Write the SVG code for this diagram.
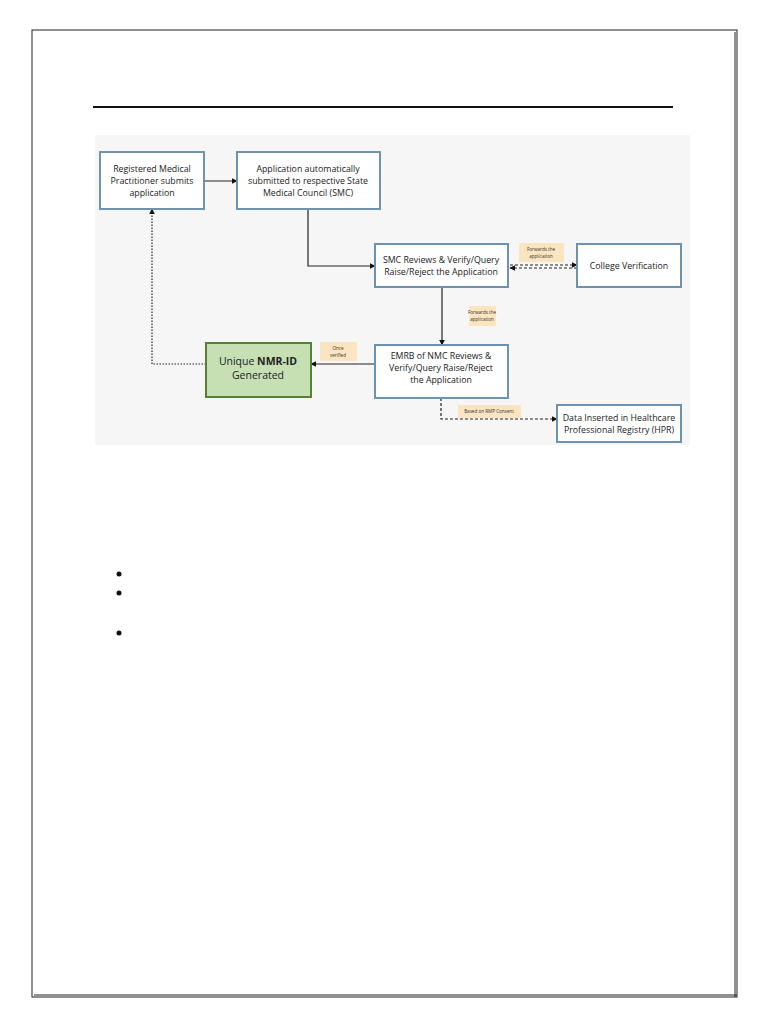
<svg xmlns="http://www.w3.org/2000/svg" width="768" height="1024" viewBox="0 0 768 1024">
<defs>
<marker id="a" viewBox="0 0 10 10" refX="9" refY="5" markerWidth="5" markerHeight="5" orient="auto"><path d="M0,0L10,5L0,10z" fill="#111"/></marker>
<style>
.n{fill:#fff;stroke:#6d93b3;stroke-width:2}
.t{font-family:"Open Sans","Liberation Sans",sans-serif;font-size:8.8px;fill:#222;text-anchor:middle}
.l{fill:#fbe5c0}
.s{font-family:"Open Sans","Liberation Sans",sans-serif;font-size:4.6px;fill:#333;text-anchor:middle}
.c{fill:none;stroke:#222;stroke-width:1.2}
</style>
</defs>
<rect width="768" height="1024" fill="#fff"/>
<rect x="32" y="30" width="705" height="967" fill="none" stroke="#222" stroke-width="1"/>
<line x1="34" y1="995" x2="737" y2="995" stroke="#222" stroke-width="1"/>
<line x1="735" y1="32" x2="735" y2="997" stroke="#222" stroke-width="1"/>
<line x1="93" y1="107" x2="673" y2="107" stroke="#111" stroke-width="2"/>
<rect x="95" y="135" width="595" height="310" fill="#f6f6f6"/>
<g id="connectors">
<path class="c" d="M204,181H237" marker-end="url(#a)"/>
<path class="c" d="M308,209V266H375" marker-end="url(#a)"/>
<path class="c" d="M510,265H577" stroke-dasharray="3,2" marker-end="url(#a)"/>
<path class="c" d="M577,268H510" stroke-dasharray="3,2" marker-end="url(#a)"/>
<path class="c" d="M442,287V345" marker-end="url(#a)"/>
<path class="c" d="M375,364H311" marker-end="url(#a)"/>
<path class="c" d="M206,364H152V209" stroke-dasharray="1.5,1.5" marker-end="url(#a)"/>
<path class="c" d="M441,398V419H557" stroke-dasharray="3,2" marker-end="url(#a)"/>
<rect class="l" x="519" y="243" width="45" height="19"/>
<text class="s" x="541" y="251">Forwards the</text><text class="s" x="541" y="258">application</text>
<rect class="l" x="469" y="306" width="27" height="20"/>
<text class="s" x="482" y="314">Forwards the</text><text class="s" x="482" y="321">application</text>
<rect class="l" x="320" y="342" width="37" height="19"/>
<text class="s" x="338" y="350">Once</text><text class="s" x="338" y="357">verified</text>
<rect class="l" x="458" y="405" width="63" height="13"/>
<text class="s" x="489" y="413">Based on RMP Consent</text>
</g>
<g id="n1"><rect class="n" x="100" y="152" width="104" height="57"/>
<text class="t" x="152" y="172">Registered Medical</text><text class="t" x="152" y="184">Practitioner submits</text><text class="t" x="152" y="196">application</text></g>
<g id="n2"><rect class="n" x="237" y="152" width="143" height="57"/>
<text class="t" x="308" y="172">Application automatically</text><text class="t" x="308" y="184">submitted to respective State</text><text class="t" x="308" y="196">Medical Council (SMC)</text></g>
<g id="n3"><rect class="n" x="375" y="244" width="133" height="43"/>
<text class="t" x="441" y="263">SMC Reviews &amp; Verify/Query</text><text class="t" x="441" y="275">Raise/Reject the Application</text></g>
<g id="n4"><rect class="n" x="577" y="244" width="104" height="43"/>
<text class="t" x="629" y="269">College Verification</text></g>
<g id="n5"><rect class="n" x="375" y="345" width="133" height="53"/>
<text class="t" x="441" y="359">EMRB of NMC Reviews &amp;</text><text class="t" x="441" y="371">Verify/Query Raise/Reject</text><text class="t" x="441" y="383">the Application</text></g>
<g id="n6"><rect x="206" y="343" width="105" height="54" fill="#c6e0b4" stroke="#548235" stroke-width="2"/>
<text class="t" x="258" y="365" style="font-size:10.5px">Unique <tspan font-weight="bold">NMR-ID</tspan></text><text class="t" x="258" y="379" style="font-size:10.5px">Generated</text></g>
<g id="n7"><rect class="n" x="557" y="405" width="124" height="37"/>
<text class="t" x="619" y="421">Data Inserted in Healthcare</text><text class="t" x="619" y="433">Professional Registry (HPR)</text></g>
<circle cx="119" cy="574" r="2.5" fill="#111"/>
<circle cx="119" cy="593" r="2.5" fill="#111"/>
<circle cx="119" cy="633" r="2.5" fill="#111"/>
</svg>
